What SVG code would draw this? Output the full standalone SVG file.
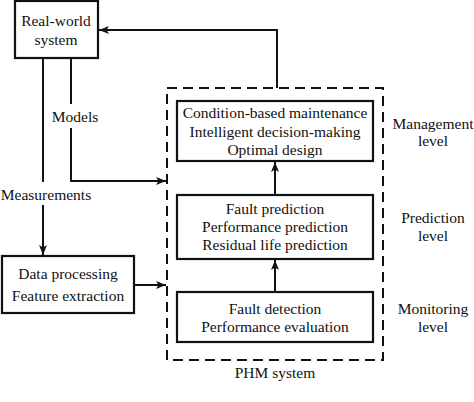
<svg xmlns="http://www.w3.org/2000/svg" width="474" height="402" viewBox="0 0 474 402">
<defs>
<marker id="ah" markerWidth="10" markerHeight="8" refX="10" refY="4" orient="auto" markerUnits="userSpaceOnUse">
<path d="M0,0 L10,4 L0,8 L2.5,4 Z" fill="#111"/>
</marker>
</defs>
<style>
.box{fill:#fff;stroke:#111;stroke-width:2.2}
.ln{fill:none;stroke:#111;stroke-width:2}
.t{font-size:15.5px;fill:#111;text-anchor:middle;dominant-baseline:central}
.dash{fill:none;stroke:#111;stroke-width:2;stroke-dasharray:10 6}
</style>
<rect width="474" height="402" fill="#fff"/>
<g font-family="'Liberation Serif', 'Times New Roman', 'DejaVu Serif', serif">
<g id="phm">
<rect class="dash" x="167" y="88" width="216" height="272"/>
<text class="t" x="275" y="372">PHM system</text>
</g>
<g id="connectors">
<path class="ln" d="M277,88 V30 H99" marker-end="url(#ah)"/>
<path class="ln" d="M71,58 V104 M71,128 V181 H166" marker-end="url(#ah)"/>
<path class="ln" d="M43,58 V182 M43,205 V255" marker-end="url(#ah)"/>
<path class="ln" d="M134,285 H166" marker-end="url(#ah)"/>
<path class="ln" d="M275,292 V260" marker-end="url(#ah)"/>
<path class="ln" d="M275,195 V162" marker-end="url(#ah)"/>
<text class="t" x="75" y="116">Models</text>
<text class="t" x="46" y="194">Measurements</text>
</g>
<g id="real-world">
<rect class="box" x="15" y="1" width="83" height="57"/>
<text class="t" x="56" y="20">Real-world</text>
<text class="t" x="56" y="39">system</text>
</g>
<g id="data-processing">
<rect class="box" x="2" y="256" width="132" height="57"/>
<text class="t" x="68" y="273">Data processing</text>
<text class="t" x="68" y="295">Feature extraction</text>
</g>
<g id="management">
<rect class="box" x="177" y="101" width="196" height="60"/>
<text class="t" x="275" y="112">Condition-based maintenance</text>
<text class="t" x="275" y="131">Intelligent decision-making</text>
<text class="t" x="275" y="149">Optimal design</text>
</g>
<g id="prediction">
<rect class="box" x="177" y="195" width="196" height="64"/>
<text class="t" x="275" y="208">Fault prediction</text>
<text class="t" x="275" y="226">Performance prediction</text>
<text class="t" x="275" y="244">Residual life prediction</text>
</g>
<g id="monitoring">
<rect class="box" x="177" y="292" width="196" height="50"/>
<text class="t" x="275" y="308">Fault detection</text>
<text class="t" x="275" y="326">Performance evaluation</text>
</g>
<g id="level-labels">
<text class="t" x="433" y="123">Management</text>
<text class="t" x="433" y="140">level</text>
<text class="t" x="433" y="217">Prediction</text>
<text class="t" x="433" y="235">level</text>
<text class="t" x="433" y="308">Monitoring</text>
<text class="t" x="433" y="326">level</text>
</g>
</g>
</svg>
